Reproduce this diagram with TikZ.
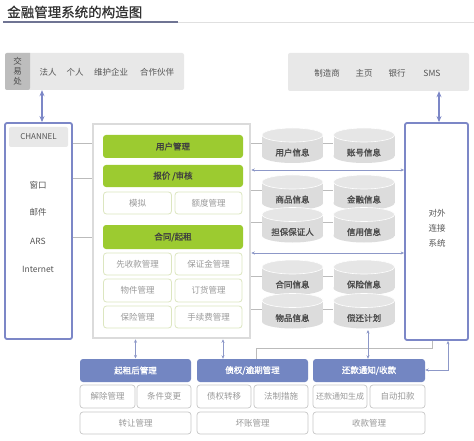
\documentclass[tikz,border=0pt]{standalone}
\usepackage{fontspec}
\setmainfont{Noto Sans CJK SC}
\newfontfamily\hb{Noto Sans CJK SC}[FakeBold=1.3]
\newfontfamily\tb{Noto Sans CJK SC}[FakeBold=0.8]
\usetikzlibrary{arrows.meta}
\definecolor{bluebd}{HTML}{7C87C7}
\definecolor{hdrblue}{HTML}{7386C2}
\definecolor{grn}{HTML}{9CCB30}
\definecolor{boxgray}{HTML}{E8E8E8}
\definecolor{darkgr}{HTML}{BDBDBD}
\definecolor{cylgray}{HTML}{DCDCDC}
\definecolor{cyltop}{HTML}{E6E6E6}
\definecolor{txt}{HTML}{555555}
\definecolor{subtxt}{HTML}{999999}
\definecolor{linegray}{HTML}{BBBBBB}
\definecolor{arr}{HTML}{8D98C8}
\definecolor{grnbd}{HTML}{DCE6C0}
\newcommand{\dbcyl}[4]{%
 \fill[cylgray] ({#2-30.5},{#3+7}) rectangle ({#2+30.5},{#3+28});
 \fill[cylgray] (#2,{#3+28}) ellipse [x radius=30.5pt, y radius=7pt];
 \filldraw[fill=cyltop, draw=white, line width=0.6pt] (#2,{#3+7}) ellipse [x radius=30.5pt, y radius=7pt];
 \node[font=\hb\fontsize{8.5}{10}\selectfont, text=txt!90!black] (#1) at (#2,{#3+24.5}) {#4};}
\tikzset{
 graybox/.style={fill=boxgray, rounded corners=2pt, inner sep=0pt},
 panel/.style={draw=bluebd, line width=1.8pt, rounded corners=2pt, fill=white, inner sep=0pt},
 cpanel/.style={draw=black!14, line width=2.5pt, fill=white, inner sep=0pt},
 grnbox/.style={fill=grn, rounded corners=3pt, inner sep=0pt, font=\hb\fontsize{8.5}{10}\selectfont, text=black!75},
 subbox/.style={draw=grnbd, line width=0.8pt, fill=white, rounded corners=3pt, inner sep=0pt, text=subtxt},
 hdrbox/.style={fill=hdrblue, rounded corners=3pt, inner sep=0pt, font=\hb\fontsize{8.5}{10}\selectfont, text=white},
 bsubbox/.style={draw=black!22, line width=0.7pt, fill=white, rounded corners=3pt, inner sep=0pt, text=subtxt},
 thinline/.style={draw=linegray, line width=0.6pt},
 dblarr/.style={draw=arr, line width=0.6pt, {Stealth[length=3.5pt,width=3pt]}-{Stealth[length=3.5pt,width=3pt]}},
 bigarr/.style={draw=bluebd, line width=1.3pt, {Stealth[length=6pt,width=5pt]}-{Stealth[length=6pt,width=5pt]}},
}
\begin{document}
\begin{tikzpicture}[x=1pt,y=-1pt, font=\fontsize{8.5}{10}\selectfont, text=txt]
\useasboundingbox[fill=white] (0,0) rectangle (474,441);
% title
\node[anchor=west, font=\tb\fontsize{13.5}{15}\selectfont, text=black!80, inner sep=0pt] (title) at (7,12) {金融管理系统的构造图};
\draw[line width=2pt, draw=black!40!bluebd!80] (3,22) -- (178,22);
\draw[line width=0.6pt, draw=black!12] (178,22) -- (474,22);
% top left box
\node[graybox, minimum width=179pt, minimum height=37pt] (tl) at (94.5,71.5) {};
\fill[darkgr, rounded corners=2pt] (30,53) -- (5,53) -- (5,90) -- (30,90) [sharp corners] -- cycle;
\node[align=center, font=\fontsize{8.5}{10}\selectfont, text=black!70] (jyc) at (17.5,71.5) {交\\易\\处};
\node (fr) at (48,72) {法人};
\node (gr) at (75,72) {个人};
\node (wh) at (111,72) {维护企业};
\node (hz) at (157,72) {合作伙伴};
% top right box
\node[graybox, minimum width=181pt, minimum height=38pt] (tr) at (378.5,72) {};
\node (zz) at (327,73) {制造商};
\node (zy) at (364,73) {主页};
\node (yh) at (397,73) {银行};
\node (sms) at (432,73) {SMS};
% left panel
\node[panel, minimum width=67pt, minimum height=216pt] (lp) at (38.5,231) {};
\node[graybox, minimum width=59pt, minimum height=20pt, font=\fontsize{8}{10}\selectfont] (ch) at (38.5,137) {CHANNEL};
\node (ck) at (38,185) {窗口};
\node (yj) at (38,212) {邮件};
\node (ars) at (38,241) {ARS};
\node (inet) at (38,269) {Internet};
% right panel
\node[panel, minimum width=63pt, minimum height=217pt] (rp) at (436.5,231.5) {};
\node[align=center, font=\fontsize{8.5}{15}\selectfont] (dw) at (437,228) {对外\\连接\\系统};
% top arrows
\draw[bigarr] (tl.south -| 42,0) -- (lp.north -| 42,0);
\draw[bigarr] (tr.south -| 439,0) -- (rp.north -| 439,0);
% center panel
\node[cpanel, minimum width=157pt, minimum height=214pt] (cp) at (171.5,231) {};
\foreach \yy in {143,178,237} \draw[thinline] (lp.east |- 0,\yy) -- (cp.west |- 0,\yy);
\node[grnbox, minimum width=140pt, minimum height=23pt] (yhgl) at (173,146.5) {用户管理};
\node[grnbox, minimum width=140pt, minimum height=22pt] (bj) at (173,176) {报价 /审核};
\node[subbox, minimum width=68pt, minimum height=22pt] (mn) at (137.5,203) {模拟};
\node[subbox, minimum width=67pt, minimum height=22pt] (ed) at (208.5,203) {额度管理};
\node[grnbox, minimum width=140pt, minimum height=24pt] (ht) at (173,237) {合同/起租};
\node[subbox, minimum width=68pt, minimum height=22pt] (xs) at (137.5,264) {先收款管理};
\node[subbox, minimum width=67pt, minimum height=22pt] (bz) at (208.5,264) {保证金管理};
\node[subbox, minimum width=68pt, minimum height=23pt] (wj) at (137.5,290.5) {物件管理};
\node[subbox, minimum width=67pt, minimum height=23pt] (dh) at (208.5,290.5) {订货管理};
\node[subbox, minimum width=68pt, minimum height=22pt] (bx) at (137.5,317) {保险管理};
\node[subbox, minimum width=67pt, minimum height=22pt] (sx) at (208.5,317) {手续费管理};
% lines behind databases
\foreach \yy in {143,190,222,276,309} \draw[thinline] (cp.east |- 0,\yy) -- (333,\yy);
% databases
\dbcyl{d1}{292.5}{128}{用户信息}
\dbcyl{d2}{364}{128}{账号信息}
\dbcyl{d3}{292.5}{175}{商品信息}
\dbcyl{d4}{364}{175}{金融信息}
\dbcyl{d5}{292.5}{207.5}{担保保证人}
\dbcyl{d6}{364}{207.5}{信用信息}
\dbcyl{d7}{292.5}{260}{合同信息}
\dbcyl{d8}{364}{260}{保险信息}
\dbcyl{d9}{292.5}{293.5}{物品信息}
\dbcyl{d10}{364}{293.5}{偿还计划}
\coordinate (d10b) at (368,330);
% center-right arrows
\draw[dblarr] (cp.east |- 0,170) -- (rp.west |- 0,170);
\draw[dblarr] (cp.east |- 0,253) -- (rp.west |- 0,253);
% bottom blocks
\node[hdrbox, minimum width=111pt, minimum height=23pt] (h1) at (135.5,370.5) {起租后管理};
\node[hdrbox, minimum width=111pt, minimum height=23pt] (h2) at (252.5,370.5) {债权/逾期管理};
\node[hdrbox, minimum width=112pt, minimum height=23pt] (h3) at (369,370.5) {还款通知/收款};
\node[bsubbox, minimum width=55pt, minimum height=23pt] (jc) at (107.5,396.5) {解除管理};
\node[bsubbox, minimum width=54pt, minimum height=23pt] (tj) at (164,396.5) {条件变更};
\node[bsubbox, minimum width=111pt, minimum height=22pt] (zr) at (135.5,423) {转让管理};
\node[bsubbox, minimum width=54pt, minimum height=23pt] (zq) at (224,396.5) {债权转移};
\node[bsubbox, minimum width=54pt, minimum height=23pt] (fz) at (281,396.5) {法制措施};
\node[bsubbox, minimum width=111pt, minimum height=22pt] (hz2) at (252.5,423) {坏账管理};
\node[bsubbox, minimum width=54pt, minimum height=23pt, font=\fontsize{8}{10}\selectfont] (hk) at (340,396.5) {还款通知生成};
\node[bsubbox, minimum width=55pt, minimum height=23pt] (zd) at (397.5,396.5) {自动扣款};
\node[bsubbox, minimum width=112pt, minimum height=22pt] (sk) at (369,423) {收款管理};
% bottom connectors
\coordinate (x223) at (223,0);
\coordinate (x256) at (256,348);
\coordinate (x432) at (432,348);
\coordinate (x448) at (448,370);
\draw[dblarr] (cp.south -| h1.north) -- (h1.north |- 0,358.5);
\draw[dblarr] (cp.south -| x223) -- (h2.north -| x223);
\draw[thinline] (rp.south -| x432) -- (x432) -- (x256) -- (h2.north -| x256);
\draw[dblarr] (d10b) -- (h3.north -| d10b);
\draw[dblarr] (rp.south -| x448) -- (x448) -- (h3.east |- x448);
\end{tikzpicture}
\end{document}
